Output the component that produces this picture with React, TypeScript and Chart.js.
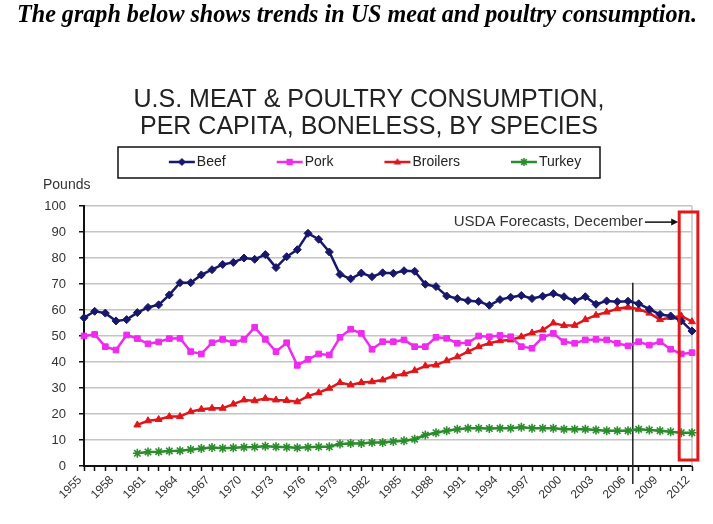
import React, { useEffect, useRef } from 'react';
import { Chart, registerables } from 'chart.js';

Chart.register(...registerables);

// ---------- data ----------
const years = [
  '1955', '1956', '1957', '1958', '1959', '1960', '1961', '1962', '1963', '1964',
  '1965', '1966', '1967', '1968', '1969', '1970', '1971', '1972', '1973', '1974',
  '1975', '1976', '1977', '1978', '1979', '1980', '1981', '1982', '1983', '1984',
  '1985', '1986', '1987', '1988', '1989', '1990', '1991', '1992', '1993', '1994',
  '1995', '1996', '1997', '1998', '1999', '2000', '2001', '2002', '2003', '2004',
  '2005', '2006', '2007', '2008', '2009', '2010', '2011', '2012',
];

const beef = [
  57.0, 59.5, 58.8, 55.8, 56.3, 59.0, 61.0, 62.0, 65.8, 70.5,
  70.5, 73.5, 75.5, 77.5, 78.3, 80.0, 79.5, 81.3, 76.3, 80.5,
  83.2, 89.5, 87.2, 82.3, 73.7, 72.0, 74.2, 72.8, 74.3, 74.1,
  75.1, 74.9, 69.9, 69.0, 65.4, 64.4, 63.6, 63.3, 61.8, 64.0,
  64.9, 65.6, 64.4, 65.3, 66.3, 65.1, 63.6, 65.1, 62.2, 63.5,
  63.2, 63.4, 62.4, 60.3, 58.3, 57.7, 55.8, 51.9,
];

const pork = [
  50.0, 50.6, 45.9, 44.6, 50.4, 49.0, 47.0, 47.7, 49.0, 49.1,
  44.0, 43.1, 47.4, 48.7, 47.4, 48.7, 53.3, 48.7, 44.0, 47.4,
  38.7, 41.0, 43.1, 42.7, 49.5, 52.6, 51.0, 44.9, 47.8, 47.8,
  48.5, 45.9, 45.9, 49.5, 49.1, 47.2, 47.4, 50.0, 49.7, 50.2,
  49.7, 45.9, 45.3, 49.5, 51.0, 47.8, 47.2, 48.5, 48.7, 48.5,
  47.2, 46.2, 47.8, 46.5, 47.8, 44.9, 43.1, 43.6,
];

const broilers = [
  null, null, null, null, null, 15.8, 17.4, 17.9, 19.0, 19.0,
  20.9, 21.8, 22.2, 22.2, 23.8, 25.4, 25.1, 26.0, 25.4, 25.2,
  24.7, 26.9, 28.2, 29.9, 32.1, 31.2, 32.1, 32.4, 33.1, 34.6,
  35.4, 36.7, 38.5, 38.8, 40.5, 42.0, 44.0, 45.9, 47.2, 48.2,
  48.5, 49.7, 51.2, 52.3, 55.0, 54.0, 54.1, 56.3, 58.0, 59.2,
  60.5, 61.1, 60.3, 58.8, 56.3, 57.1, 57.7, 55.5,
];

const turkey = [
  null, null, null, null, null, 4.9, 5.4, 5.5, 5.8, 5.9,
  6.3, 6.7, 7.1, 6.8, 7.0, 7.2, 7.3, 7.6, 7.4, 7.2,
  7.0, 7.2, 7.4, 7.4, 8.5, 8.7, 8.7, 9.0, 9.0, 9.4,
  9.7, 10.3, 11.9, 12.8, 13.6, 14.1, 14.5, 14.5, 14.4, 14.5,
  14.5, 14.9, 14.5, 14.5, 14.5, 14.1, 14.1, 14.1, 13.8, 13.6,
  13.6, 13.6, 14.1, 13.8, 13.6, 13.2, 12.8, 12.8,
];

const seriesNames = ['Beef', 'Pork', 'Broilers', 'Turkey'];
const seriesValues = [beef, pork, broilers, turkey];
const seriesColors = ['#17176b', '#ee2bee', '#e0161b', '#2a8c2a'];
const seriesMarkers = ['rectRot', 'rect', 'triangle', 'star'];

const heading = 'The graph below shows trends in US meat and poultry consumption.';
const chartTitle = ['U.S. MEAT & POULTRY CONSUMPTION,', 'PER CAPITA, BONELESS, BY SPECIES'];
const yAxisTitle = 'Pounds';
const yMin = 0;
const yMax = 100;
const yStep = 10;
const labelEvery = 3;
const forecastNote = 'USDA Forecasts, December';
const firstYear = 1955;
const dividerYear = 2006.45;
const dividerTopValue = 70.5;
const noteEndYear = 2007.4;
const noteValue = 93.8;
const boxFromYear = 2010.8;
const boxToYear = 2012.55;
const boxLow = 2.3;
const boxHigh = 97.7;

// ---------- styling ----------
const FONT = 'Arial, "Liberation Sans", Helvetica, sans-serif';
const LEGEND_BOX_W = 62;

function drawMarker(ctx: CanvasRenderingContext2D, style: string, x: number, y: number, r: number) {
  ctx.beginPath();
  if (style === 'rectRot') {
    ctx.moveTo(x, y - r);
    ctx.lineTo(x + r, y);
    ctx.lineTo(x, y + r);
    ctx.lineTo(x - r, y);
    ctx.closePath();
    ctx.fill();
  } else if (style === 'rect') {
    const s = r * 0.8;
    ctx.fillRect(x - s, y - s, 2 * s, 2 * s);
  } else if (style === 'triangle') {
    ctx.moveTo(x, y - r);
    ctx.lineTo(x + r * 0.95, y + r * 0.65);
    ctx.lineTo(x - r * 0.95, y + r * 0.65);
    ctx.closePath();
    ctx.fill();
  } else {
    for (let i = 0; i < 4; i++) {
      const a = (i * Math.PI) / 4;
      ctx.moveTo(x - r * Math.cos(a), y - r * Math.sin(a));
      ctx.lineTo(x + r * Math.cos(a), y + r * Math.sin(a));
    }
    ctx.lineWidth = 1.6;
    ctx.stroke();
  }
}

function legendIcon(color: string, style: string) {
  const W = LEGEND_BOX_W + 12;
  const H = 12;
  const c = document.createElement('canvas');
  c.width = W;
  c.height = H;
  const ctx = c.getContext('2d') as CanvasRenderingContext2D;
  ctx.strokeStyle = color;
  ctx.fillStyle = color;
  ctx.lineWidth = 2.5;
  const x0 = W - 27;
  const x1 = W - 1;
  const cy = H / 2;
  ctx.beginPath();
  ctx.moveTo(x0, cy);
  ctx.lineTo(x1, cy);
  ctx.stroke();
  drawMarker(ctx, style, (x0 + x1) / 2, cy, 4);
  return c;
}

const decorations = {
  id: 'decorations',
  beforeInit(chart: any) {
    const lg = chart.legend;
    if (lg && !lg.__patched) {
      const fit = lg.fit;
      lg.fit = function () {
        fit.call(this);
        this.height += 27;
      };
      lg.__patched = true;
    }
  },
  beforeDatasetsDraw(chart: any) {
    const { ctx, chartArea, scales } = chart;
    const xs = scales.x;
    const ys = scales.y;
    ctx.save();
    // right border of plot area
    ctx.strokeStyle = '#c4c4c4';
    ctx.lineWidth = 1.5;
    ctx.beginPath();
    ctx.moveTo(chartArea.right, chartArea.top);
    ctx.lineTo(chartArea.right, chartArea.bottom);
    ctx.stroke();
    // divider line
    const dx = xs.getPixelForValue(dividerYear - firstYear);
    ctx.strokeStyle = '#222';
    ctx.lineWidth = 1.5;
    ctx.beginPath();
    ctx.moveTo(dx, ys.getPixelForValue(dividerTopValue));
    ctx.lineTo(dx, chartArea.bottom + 18);
    ctx.stroke();
    ctx.restore();
  },
  afterDraw(chart: any) {
    const { ctx, chartArea, scales, legend } = chart;
    const xs = scales.x;
    const ys = scales.y;
    ctx.save();
    // chart title
    ctx.fillStyle = '#222';
    ctx.font = `25px ${FONT}`;
    ctx.textAlign = 'center';
    ctx.textBaseline = 'middle';
    chartTitle.forEach((line, i) => ctx.fillText(line, 369, 100 + i * 27));
    // legend frame
    if (legend) {
      ctx.strokeStyle = '#111';
      ctx.lineWidth = 1.5;
      ctx.strokeRect(118, legend.top + 2, 482, 31);
    }
    // y-axis unit label
    ctx.fillStyle = '#333';
    ctx.font = `14px ${FONT}`;
    ctx.textAlign = 'left';
    ctx.textBaseline = 'middle';
    ctx.fillText(yAxisTitle, chartArea.left - 41, chartArea.top - 21);
    // forecast note with arrow
    const noteX = xs.getPixelForValue(noteEndYear - firstYear);
    const noteY = ys.getPixelForValue(noteValue);
    const bx0 = xs.getPixelForValue(boxFromYear - firstYear);
    const bx1 = xs.getPixelForValue(boxToYear - firstYear);
    const by0 = ys.getPixelForValue(boxHigh);
    const by1 = ys.getPixelForValue(boxLow);
    ctx.font = `15px ${FONT}`;
    ctx.textAlign = 'right';
    ctx.fillStyle = '#333';
    ctx.fillText(forecastNote, noteX, noteY);
    ctx.strokeStyle = '#111';
    ctx.fillStyle = '#111';
    ctx.lineWidth = 1.5;
    ctx.beginPath();
    ctx.moveTo(noteX + 2, noteY);
    ctx.lineTo(bx0 - 6, noteY);
    ctx.stroke();
    ctx.beginPath();
    ctx.moveTo(bx0 - 1, noteY);
    ctx.lineTo(bx0 - 8, noteY - 3.5);
    ctx.lineTo(bx0 - 8, noteY + 3.5);
    ctx.closePath();
    ctx.fill();
    // red forecast box
    ctx.strokeStyle = '#e01a1a';
    ctx.lineWidth = 3;
    ctx.strokeRect(bx0, by0, bx1 - bx0, by1 - by0);
    ctx.restore();
  },
};

export default function App() {
  const canvasRef = useRef<HTMLCanvasElement>(null);
  const headRef = useRef<HTMLDivElement>(null);

  useEffect(() => {
    const h = headRef.current;
    if (h) {
      h.style.transform = '';
      const w = h.getBoundingClientRect().width;
      if (w > 0) h.style.transform = `scaleX(${680 / w})`;
    }
    const canvas = canvasRef.current;
    if (!canvas) return;
    const icons = seriesColors.map((c, i) => legendIcon(c, seriesMarkers[i]));
    const chart = new Chart(canvas, {
      type: 'line',
      data: {
        labels: years,
        datasets: seriesNames.map((name, i) => ({
          label: name,
          data: seriesValues[i],
          borderColor: seriesColors[i],
          backgroundColor: seriesColors[i],
          borderWidth: 2.5,
          pointStyle: seriesMarkers[i] as any,
          pointRadius: seriesMarkers[i] === 'star' ? 4.5 : 4,
          pointBorderWidth: seriesMarkers[i] === 'star' ? 1.6 : 1,
          pointBorderColor: seriesColors[i],
          pointBackgroundColor: seriesColors[i],
          tension: 0,
          fill: false,
        })),
      },
      options: {
        responsive: false,
        animation: false,
        devicePixelRatio: 1,
        layout: { padding: { left: 17, right: 21, top: 145, bottom: 0 } },
        plugins: {
          title: { display: false },
          legend: {
            display: true,
            position: 'top',
            onClick: () => {},
            labels: {
              usePointStyle: true,
              pointStyleWidth: LEGEND_BOX_W,
              padding: 10,
              color: '#222',
              font: { family: FONT, size: 14 },
              generateLabels: (ch: any) =>
                ch.data.datasets.map((ds: any, i: number) => ({
                  text: ds.label,
                  fillStyle: seriesColors[i],
                  strokeStyle: seriesColors[i],
                  lineWidth: 0,
                  pointStyle: icons[i],
                  hidden: false,
                  datasetIndex: i,
                  fontColor: '#222',
                })),
            },
          },
          tooltip: { enabled: false },
        },
        scales: {
          x: {
            type: 'category',
            offset: false,
            afterFit: (scale: any) => {
              scale.height = 58;
            },
            grid: {
              drawOnChartArea: false,
              drawTicks: true,
              tickLength: 5,
              tickColor: '#111',
              tickWidth: 1.5,
            },
            border: { color: '#111', width: 2 },
            ticks: {
              autoSkip: false,
              minRotation: 45,
              maxRotation: 45,
              padding: 2,
              labelOffset: -4,
              color: '#333',
              font: { family: FONT, size: 12 },
              callback: (_v: any, index: number) => (index % labelEvery === 0 ? years[index] : ''),
            },
          },
          y: {
            min: yMin,
            max: yMax,
            afterFit: (scale: any) => {
              scale.width = 67;
            },
            grid: {
              color: '#c4c4c4',
              lineWidth: 1.5,
              drawTicks: true,
              tickLength: 5,
              tickColor: '#111',
              tickWidth: 1.5,
            },
            border: { color: '#111', width: 2 },
            ticks: {
              stepSize: yStep,
              padding: 13,
              color: '#333',
              font: { family: FONT, size: 13 },
            },
          },
        },
      },
      plugins: [decorations],
    } as any);
    return () => chart.destroy();
  }, []);

  return (
    <div
      style={{
        position: 'absolute',
        left: 0,
        top: 0,
        width: 713,
        height: 524,
        background: '#fff',
        overflow: 'hidden',
      }}
    >
      <canvas
        ref={canvasRef}
        width={713}
        height={524}
        style={{ position: 'absolute', left: 0, top: 0, width: 713, height: 524 }}
      />
      <div
        ref={headRef}
        style={{
          position: 'absolute',
          left: 17,
          top: 0,
          font: 'bold italic 25px "Liberation Serif", "Times New Roman", serif',
          whiteSpace: 'nowrap',
          color: '#000',
          transformOrigin: '0 0',
        }}
      >
        {heading}
      </div>
    </div>
  );
}
